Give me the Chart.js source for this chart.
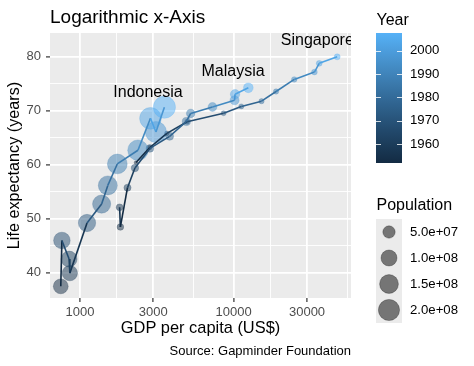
<!DOCTYPE html>
<html lang="en">
<head>
<meta charset="UTF-8">
<title>Logarithmic x-Axis</title>
<script src="https://cdn.jsdelivr.net/npm/chart.js"></script>
<style>
  body { margin: 0; background: #ffffff; }
  #wrap { width: 474px; height: 366px; position: relative; }
</style>
</head>
<body>
<div id="wrap"><canvas id="chart"></canvas></div>
<script>
// gapminder values, one entry per year
const years = [1952, 1957, 1962, 1967, 1972, 1977, 1982, 1987, 1992, 1997, 2002, 2007];

const indonesiaGdp = [749.68, 858.90, 849.29, 762.43, 1111.11, 1382.70, 1516.87, 1748.36, 2383.14, 3119.34, 2873.91, 3540.65];
const indonesiaLife = [37.468, 39.918, 42.518, 45.964, 49.203, 52.702, 56.159, 60.137, 62.681, 66.041, 68.588, 70.650];
const indonesiaPop = [82052000, 90124000, 99028000, 109343000, 121282000, 136725000, 153343000, 169276000, 184816000, 199070000, 211060000, 223547000];

const malaysiaGdp = [1831.13, 1810.07, 2036.88, 2277.74, 2849.09, 3827.92, 4920.36, 5249.80, 7277.91, 10132.91, 10206.98, 12451.66];
const malaysiaLife = [48.463, 52.102, 55.737, 59.371, 63.010, 65.256, 68.000, 69.500, 70.693, 71.938, 73.044, 74.241];
const malaysiaPop = [6748378, 7739235, 8906385, 10154878, 11441462, 12845381, 14441916, 16331785, 18319502, 20476091, 22662365, 24821286];

const singaporeGdp = [2315.14, 2843.10, 3674.74, 4977.19, 8597.76, 11210.09, 15169.16, 18861.53, 24769.89, 33519.48, 36023.11, 47143.18];
const singaporeLife = [60.396, 63.179, 65.798, 67.946, 69.521, 70.795, 71.760, 73.560, 75.788, 77.158, 78.770, 79.972];
const singaporePop = [1127000, 1445929, 1750200, 1977600, 2152400, 2325300, 2651869, 2794552, 3235865, 3802309, 4197776, 4553009];

// country labels (anchored in data units)
const labelNames = ['Indonesia', 'Malaysia', 'Singapore'];
const labelGdp = [2770, 9900, 35000];
const labelLife = [73.3, 77.3, 82.9];

// axis breaks
const xMajor = [1000, 3000, 10000, 30000];
const xMinor = [1732, 5477, 17321, 54772];
const yMajor = [40, 50, 60, 70, 80];
const yMinor = [45, 55, 65, 75];

// legend breaks
const yearBreaks = [1960, 1970, 1980, 1990, 2000];
const popBreaks = [5e7, 1e8, 1.5e8, 2e8];
const popLabels = ['5.0e+07', '1.0e+08', '1.5e+08', '2.0e+08'];

const allPop = indonesiaPop.concat(malaysiaPop, singaporePop);
const popMin = Math.min(...allPop);
const popMax = Math.max(...allPop);
const yearMin = years[0];
const yearMax = years[years.length - 1];

Chart.defaults.font.family = "'Liberation Sans', Arial, sans-serif";

// colour ramp in CIELAB, like ggplot's scale_colour_gradient
const WHITE = [0.95047, 1, 1.08883];
function rgbToLab(rgb) {
    const l = rgb.map(c => { c /= 255; return c <= 0.04045 ? c / 12.92 : Math.pow((c + 0.055) / 1.055, 2.4); });
    const xyz = [
        (0.4124 * l[0] + 0.3576 * l[1] + 0.1805 * l[2]) / WHITE[0],
        (0.2126 * l[0] + 0.7152 * l[1] + 0.0722 * l[2]) / WHITE[1],
        (0.0193 * l[0] + 0.1192 * l[1] + 0.9505 * l[2]) / WHITE[2],
    ];
    const f = xyz.map(t => t > 0.008856 ? Math.cbrt(t) : 7.787 * t + 16 / 116);
    return [116 * f[1] - 16, 500 * (f[0] - f[1]), 200 * (f[1] - f[2])];
}
function labToRgb(lab) {
    const fy = (lab[0] + 16) / 116, fx = fy + lab[1] / 500, fz = fy - lab[2] / 200;
    const inv = t => t > 0.206893 ? t * t * t : (t - 16 / 116) / 7.787;
    const X = inv(fx) * WHITE[0], Y = inv(fy) * WHITE[1], Z = inv(fz) * WHITE[2];
    const lin = [
        3.2406 * X - 1.5372 * Y - 0.4986 * Z,
        -0.9689 * X + 1.8758 * Y + 0.0415 * Z,
        0.0557 * X - 0.2040 * Y + 1.0570 * Z,
    ];
    return lin.map(c => {
        c = c <= 0.0031308 ? 12.92 * c : 1.055 * Math.pow(c, 1 / 2.4) - 0.055;
        return Math.max(0, Math.min(255, Math.round(c * 255)));
    });
}
const labLow = rgbToLab([19, 43, 67]);
const labHigh = rgbToLab([86, 177, 247]);

function yearColor(yr, a) {
    const t = (yr - yearMin) / (yearMax - yearMin);
    const c = labToRgb(labLow.map((v, i) => v + (labHigh[i] - v) * t));
    return `rgba(${c[0]},${c[1]},${c[2]},${a})`;
}

// area scale, range 1..6
function popRadius(p) {
    const size = 1 + 5 * Math.sqrt((p - popMin) / (popMax - popMin));
    return 1.85 * size;
}

function makePoints(gdp, life, pop) {
    return gdp.map((g, i) => ({ x: g, y: life[i], year: years[i], pop: pop[i] }));
}

const countries = [
    makePoints(indonesiaGdp, indonesiaLife, indonesiaPop),
    makePoints(malaysiaGdp, malaysiaLife, malaysiaPop),
    makePoints(singaporeGdp, singaporeLife, singaporePop),
];

const datasets = [];
countries.forEach(pts => {
    datasets.push({
        data: pts,
        showLine: false,
        pointRadius: ctx => popRadius(ctx.raw.pop),
        pointBackgroundColor: ctx => yearColor(ctx.raw.year, 0.5),
        pointBorderColor: ctx => yearColor(ctx.raw.year, 0.25),
        pointBorderWidth: 1,
        order: 2,
    });
    // geom_line joins the points in x order
    const sorted = pts.slice().sort((a, b) => a.x - b.x);
    datasets.push({
        data: sorted,
        showLine: true,
        pointRadius: 0,
        borderWidth: 1.6,
        borderColor: yearColor(yearMin, 1),
        segment: { borderColor: ctx => yearColor(sorted[ctx.p0DataIndex].year, 1) },
        order: 1,
    });
});

const decorPlugin = {
    id: 'decor',
    beforeDraw(chart) {
        const { ctx, chartArea: a } = chart;
        ctx.save();
        ctx.fillStyle = '#EBEBEB';
        ctx.fillRect(a.left, a.top, a.right - a.left, a.bottom - a.top);
        ctx.restore();
    },
    afterDatasetsDraw(chart) {
        const { ctx, chartArea: a, scales } = chart;
        ctx.save();
        ctx.beginPath();
        ctx.rect(a.left, a.top, a.right - a.left, a.bottom - a.top);
        ctx.clip();
        ctx.fillStyle = '#000';
        ctx.font = "16px 'Liberation Sans', Arial, sans-serif";
        ctx.textAlign = 'center';
        ctx.textBaseline = 'middle';
        labelNames.forEach((n, i) => {
            ctx.fillText(n, scales.x.getPixelForValue(labelGdp[i]), scales.y.getPixelForValue(labelLife[i]));
        });
        ctx.restore();
    },
    afterDraw(chart) {
        const { ctx, chartArea: a } = chart;
        const fam = "'Liberation Sans', Arial, sans-serif";
        ctx.save();

        // title and caption
        ctx.fillStyle = '#000';
        ctx.textBaseline = 'alphabetic';
        ctx.font = '19px ' + fam;
        ctx.textAlign = 'left';
        ctx.fillText('Logarithmic x-Axis', a.left, 23);
        ctx.font = '13px ' + fam;
        ctx.textAlign = 'right';
        ctx.fillText('Source: Gapminder Foundation', a.right, 355);

        // colour bar legend
        const bx = 376, bw = 26, yTop = 33, yBot = 163;
        const yPix = yr => 162.7 - (yr - yearMin) * 2.333;
        ctx.textAlign = 'left';
        ctx.font = '16px ' + fam;
        ctx.fillText('Year', 376.5, 24.5);
        const grad = ctx.createLinearGradient(0, yBot, 0, yTop);
        for (let k = 0; k <= 20; k++) {
            grad.addColorStop(k / 20, yearColor(yearMin + (yearMax - yearMin) * k / 20, 1));
        }
        ctx.fillStyle = grad;
        ctx.fillRect(bx, yTop, bw, yBot - yTop);
        ctx.strokeStyle = 'rgba(255,255,255,0.8)';
        ctx.lineWidth = 1;
        ctx.font = '13.2px ' + fam;
        ctx.textBaseline = 'middle';
        ctx.fillStyle = '#000';
        yearBreaks.forEach(yr => {
            const y = Math.round(yPix(yr)) + 0.5;
            ctx.beginPath();
            ctx.moveTo(bx, y); ctx.lineTo(bx + 5, y);
            ctx.moveTo(bx + bw - 5, y); ctx.lineTo(bx + bw, y);
            ctx.stroke();
            ctx.fillText(String(yr), 410, yPix(yr));
        });

        // size legend
        ctx.textBaseline = 'alphabetic';
        ctx.font = '16px ' + fam;
        ctx.fillText('Population', 376.5, 209.5);
        ctx.fillStyle = '#EBEBEB';
        ctx.fillRect(376, 219, 26, 104);
        ctx.font = '13.2px ' + fam;
        ctx.textBaseline = 'middle';
        popBreaks.forEach((p, i) => {
            const cy = 232 + i * 26;
            ctx.beginPath();
            ctx.arc(389, cy, popRadius(p), 0, Math.PI * 2);
            ctx.fillStyle = 'rgba(0,0,0,0.5)';
            ctx.fill();
            ctx.strokeStyle = 'rgba(0,0,0,0.25)';
            ctx.stroke();
            ctx.fillStyle = '#000';
            ctx.fillText(popLabels[i], 410, cy);
        });
        ctx.restore();
    },
};

new Chart(document.getElementById('chart'), {
    type: 'scatter',
    data: { datasets: datasets },
    options: {
        responsive: true,
        maintainAspectRatio: false,
        animation: false,
        events: [],
        layout: { padding: { top: 33, right: 123, bottom: 0, left: 0 } },
        plugins: { legend: { display: false }, tooltip: { enabled: false } },
        scales: {
            x: {
                type: 'logarithmic',
                min: 638,
                max: 57980,
                afterBuildTicks: s => { s.ticks = xMajor.concat(xMinor).sort((a, b) => a - b).map(v => ({ value: v })); },
                afterFit: s => { s.height = 68; },
                ticks: {
                    autoSkip: false,
                    maxRotation: 0,
                    padding: 3,
                    color: '#4D4D4D',
                    font: { size: 13 },
                    callback: v => xMajor.includes(v) ? String(v) : '',
                },
                grid: {
                    color: '#FFFFFF',
                    lineWidth: ctx => xMajor.includes(ctx.tick.value) ? 1.8 : 0.9,
                    tickColor: ctx => xMajor.includes(ctx.tick.value) ? '#333333' : 'rgba(0,0,0,0)',
                    tickLength: 4,
                    tickWidth: 1.2,
                },
                border: { display: false },
                title: {
                    display: true,
                    text: 'GDP per capita (US$)',
                    color: '#000',
                    font: { size: 16.4 },
                    padding: { top: 0, bottom: 28 },
                },
            },
            y: {
                min: 35.31,
                max: 84.39,
                afterBuildTicks: s => { s.ticks = yMajor.concat(yMinor).sort((a, b) => a - b).map(v => ({ value: v })); },
                afterFit: s => { s.width = 50; },
                ticks: {
                    padding: 5,
                    color: '#4D4D4D',
                    font: { size: 13 },
                    callback: v => yMajor.includes(v) ? String(v) : '',
                },
                grid: {
                    color: '#FFFFFF',
                    lineWidth: ctx => yMajor.includes(ctx.tick.value) ? 1.8 : 0.9,
                    tickColor: ctx => yMajor.includes(ctx.tick.value) ? '#333333' : 'rgba(0,0,0,0)',
                    tickLength: 4,
                    tickWidth: 1.2,
                },
                border: { display: false },
                title: {
                    display: true,
                    text: 'Life expectancy (years)',
                    color: '#000',
                    font: { size: 16.2 },
                    padding: { top: 5, bottom: 0 },
                },
            },
        },
    },
    plugins: [decorPlugin],
});
</script>
</body>
</html>
